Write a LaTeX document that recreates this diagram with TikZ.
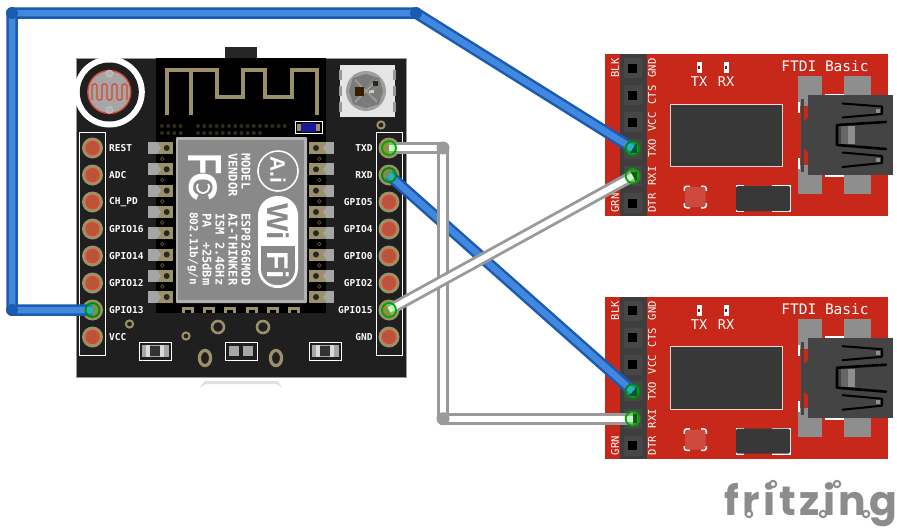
\documentclass[tikz,border=0pt]{standalone}
\usepackage{fontspec}
\usepackage{graphicx}
\setmainfont{Liberation Sans}
\setmonofont{DejaVu Sans Mono}
\newfontfamily\logofont[LetterSpace=8.5]{Poppins}
\definecolor{pcb}{HTML}{1F1F1F}
\definecolor{tanm}{HTML}{9C9068}
\definecolor{pinred}{HTML}{D9482E}
\definecolor{pincore}{HTML}{B5553D}
\definecolor{ftred}{HTML}{C8281A}
\definecolor{btnred}{HTML}{CF4A3E}
\definecolor{hdr}{HTML}{3E3E3E}
\definecolor{usb}{HTML}{444444}
\definecolor{padgray}{HTML}{8E8E8E}
\definecolor{modgray}{HTML}{898989}
\definecolor{wblue}{HTML}{4188DE}
\definecolor{wblueE}{HTML}{1A5BB0}
\definecolor{wgray}{HTML}{9A9A9A}
\definecolor{logogray}{HTML}{8C8C8C}
\tikzset{
 espin/.style={circle,fill=tanm,minimum size=21pt,inner sep=0pt},
 ftpin/.style={rectangle,fill=black,minimum size=9pt,inner sep=0pt},
 wireB/.style={draw=wblueE,line width=2.5pt,double=wblue,double distance=6.5pt,line join=round},
 wireG/.style={draw=wgray,line width=2.9pt,double=white,double distance=5.8pt,line join=round},
 jointB/.style={circle,fill=wblueE,minimum size=12pt,inner sep=0pt},
 jointG/.style={circle,fill=wgray,minimum size=13pt,inner sep=0pt},
 endB/.style={circle,draw=green!55!black,line width=1.8pt,fill=green!50!cyan,fill opacity=.35,minimum size=14pt,inner sep=0pt},
 endG/.style={circle,draw=green!65!black,line width=1.8pt,fill=green!70,fill opacity=.35,minimum size=14pt,inner sep=0pt},
 esplab/.style={text=white,font=\ttfamily\bfseries\fontsize{9.5}{10}\selectfont,inner sep=0pt},
 ftlab/.style={text=white,font=\ttfamily\fontsize{10.5}{11}\selectfont,inner sep=0pt,rotate=90},
 modlab/.style={text=white,font=\ttfamily\bfseries\fontsize{12}{12}\selectfont,inner sep=0pt,rotate=-90,anchor=west},
 usbline/.style={draw=black,line width=2pt,line cap=round},
 logoring/.style={fill=white,draw=logogray,line width=2pt},
}
\newcommand{\ftdiboard}[2]{%
\begin{scope}[shift={(0,#2)}]
 \fill[ftred] (605,54) rectangle (888,216);
 \fill[hdr] (620,54) rectangle (647,216);
 \foreach \n/\py in {1/68,2/95,3/122,4/148.5,5/176,6/203}{
  \fill[black!72] (624,\py-10) rectangle (642,\py+10);
  \node[ftpin] (#1p\n) at (632.7,\py) {};
 }
 \node[ftlab] (#1bl) at (615,68) {BLK};
 \node[ftlab] (#1gr) at (615,203) {GRN};
 \foreach \n/\py/\t in {1/68/GND,2/95/CTS,3/122/VCC,4/148.5/TXO,5/176/RXI,6/203/DTR}{
  \node[ftlab] (#1l\n) at (652,\py) {\t};
 }
 % LEDs
 \fill[white] (696.5,62) rectangle (701.5,73); \fill[white] (723.5,62) rectangle (728.5,73);
 \fill[ftred!60!black] (698,66) rectangle (700,69); \fill[ftred!60!black] (725,66) rectangle (727,69);
 \node[text=white,font=\ttfamily\fontsize{13.5}{13}\selectfont,inner sep=0pt] (#1tx) at (699,81.7) {TX};
 \node[text=white,font=\ttfamily\fontsize{13.5}{13}\selectfont,inner sep=0pt] (#1rx) at (726,81.7) {RX};
 \node[text=white,font=\ttfamily\fontsize{14.5}{15}\selectfont,inner sep=0pt] (#1ti) at (825,66) {FTDI Basic};
 % chip
 \fill[black!78,draw=white!80!ftred,line width=.6pt] (670.7,104) rectangle (782,166.7);
 % button
 \fill[white,rounded corners=3pt] (683.5,185.5) rectangle (707,208.5);
 \fill[ftred] (690,185) rectangle (701,209); \fill[ftred] (683,191) rectangle (708,203);
 \fill[btnred,rounded corners=2pt] (685,187) rectangle (705.5,207);
 % component
 \fill[white] (735.5,185) rectangle (791,212);
 \fill[ftred] (744,184) rectangle (772,213);
 \fill[black!78,rounded corners=1.5pt] (736,186) rectangle (790,211);
 % usb
 \fill[padgray] (798,76) rectangle (822,106); \fill[padgray] (844,76) rectangle (871,106);
 \fill[padgray] (798,165) rectangle (822,194); \fill[padgray] (844,165) rectangle (871,194);
 \fill[white] (825,93.5) rectangle (844,96); \fill[white] (825,174) rectangle (844,177);
 \fill[white] (798,102) rectangle (800,113); \fill[white] (798,158) rectangle (800,169);
 \fill[usb] (800.5,99) rectangle (804,172);
 \fill[usb] (803,122) -- (808,118) -- (808,152) -- (803,148) -- cycle;
 \fill[usb] (808,95) rectangle (893,175);
 \fill[black!60] (841,126) rectangle (848,144);
 \fill[padgray] (848,126) rectangle (855,144);
 \draw[usbline,line width=2.6pt,line join=round] (886,122) -- (837,125) -- (837,145) -- (886,149);
 \draw[usbline,line join=round] (842.5,103.5) -- (882,106.5) -- (882,114) -- (842.5,117.5);
 \draw[usbline,line join=round] (842.5,152.5) -- (882,156) -- (882,163) -- (842.5,167);
 \fill[padgray] (876,108.5) rectangle (880,112.5);
 \fill[padgray] (876,157.5) rectangle (880,161.5);
\end{scope}}
\begin{document}
\begin{tikzpicture}[x=1pt,y=-1pt]
\useasboundingbox (0,0) rectangle (897,528);
\fill[white] (0,0) rectangle (897,528);
% usb outline under the board
\fill[black!12] (200,387) -- (205,381) -- (278,381) -- (282,388) -- (277,384) -- (206,384) -- cycle;
% ESP board
\fill[black!85] (225,47) rectangle (257,58);
\fill[pcb,draw=black!40,line width=.5pt] (76.5,58) rectangle (406,377);
\fill[black] (156,58) rectangle (326,313);
% antenna
\draw[tanm,line width=4pt,line cap=butt,line join=miter]
 (166.5,115) -- (166.5,70) -- (191,70) -- (191,115);
\draw[tanm,line width=4pt,line join=miter]
 (191,70) -- (217,70) -- (217,97) -- (243,97) -- (243,70) -- (265,70) -- (265,97) -- (292,97) -- (292,70) -- (317,70) -- (317,115);
% dots
\foreach \i in {0,...,3}{\foreach \yy in {126,133}{\fill[black!70!tanm] (162+6.2*\i,\yy) circle (2);}}
\foreach \i in {0,...,14}{\fill[black!70!tanm] (198+6.2*\i,126) circle (2);}
\foreach \i in {0,...,10}{\fill[black!70!tanm] (198+6.2*\i,133) circle (2);}
% blue SMD
\fill[black] (295,121.5) rectangle (322,133.5);
\draw[white,line width=.8pt] (295,121.5) rectangle (322,133.5);
\fill[tanm] (297,124) rectangle (320,131);
\fill[blue!55!black!90!white] (301,123) rectangle (316,132);
% LDR
\fill[white] (109.3,92) circle (35.5);
\fill[pcb] (109.3,92) circle (29.5);
\fill[black!35,draw=pinred,line width=1.3pt] (109.3,92) circle (21.5);
\draw[pinred,line width=1.3pt,rounded corners=1.5pt]
 (92,100) -- (92,84) -- (97,84) -- (97,100) -- (102,100) -- (102,84) -- (107,84) -- (107,100) -- (112,100) -- (112,84) -- (117,84) -- (117,100) -- (122,100) -- (122,84) -- (127,84) -- (127,100);
\fill[black!30,draw=white!80!black,line width=.5pt] (109.3,73.5) circle (3.5);
\fill[black!30,draw=white!80!black,line width=.5pt] (109.3,110) circle (3.5);
% RGB LED
\fill[black!10] (340,65) rectangle (395,117);
\fill[black!40] (339,70) rectangle (342,80); \fill[black!40] (339,86) rectangle (342,96); \fill[black!40] (339,102) rectangle (342,112);
\fill[black!40] (393,70) rectangle (396,80); \fill[black!40] (393,86) rectangle (396,96); \fill[black!40] (393,102) rectangle (396,112);
\fill[black!38] (366,91) circle (20);
\fill[black!52] (353,78) -- (366,74) -- (379,78) -- (383,91) -- (379,104) -- (366,108) -- (353,104) -- (349,91) -- cycle;
\draw[black!38,line width=1.5pt] (355,80) -- (377,102) (355,102) -- (377,80);
\fill[black!78!orange] (355,87) rectangle (364,96);
\fill[black!20] (369,89.5) rectangle (374,92.5);
\fill[black!85] (373,81) rectangle (378,86);
\draw[tanm,line width=.4pt] (364,91) -- (375,76) (364,91) -- (378,100) (369,91) -- (383,85) (358,96) -- (370,106) (358,84) -- (354,74);
% header frames
\draw[white,line width=1pt] (79.5,132) rectangle (105.5,355);
\draw[white,line width=1pt] (376,132) rectangle (402,355);
% ring holes
\foreach \hx/\hy/\hr in {129.5/324/3.6,186/336/3.6,381/125/3.6}{\draw[tanm,line width=2pt] (\hx,\hy) circle (\hr);}
\foreach \hx in {218,263}{\draw[tanm,line width=2.6pt] (\hx,327) circle (6);}
\foreach \hx in {205,276}{\draw[tanm,line width=3.2pt] (\hx,358) ellipse (5.6 and 7.6);}
% SMDs
\foreach \sx in {139,309}{
 \draw[white,line width=1pt] (\sx,342) rectangle (\sx+32.5,360);
 \fill[black!35] (\sx+3,345) rectangle (\sx+29.5,357);
 \fill[white!85!black] (\sx+7,345) rectangle (\sx+11,357); \fill[white!85!black] (\sx+21,345) rectangle (\sx+25,357);
 \fill[black!80] (\sx+11,346) rectangle (\sx+21,356);
}
\draw[white,line width=1pt] (225,342) rectangle (257,360);
\fill[black!35] (229,346) rectangle (239,356); \fill[black!35] (243,346) rectangle (253,356);
% module side pads
\foreach \py in {148,169.3,190.6,212,233.2,254.5,276,297}{
 \fill[black!35] (148,\py-6) rectangle (158,\py+6);
 \fill[tanm] (158,\py-6) rectangle (173,\py+6);
 \fill[black!35] (158,\py-4) -- (161,\py) -- (158,\py+4) -- cycle;
 \fill[black!85] (166.7,\py) circle (3);
 \fill[black!35] (326,\py-6) rectangle (334,\py+6);
 \fill[tanm] (309,\py-6) rectangle (326,\py+6);
 \fill[black!35] (326,\py-4) -- (323,\py) -- (326,\py+4) -- cycle;
 \fill[black!85] (316,\py) circle (3);
}
\foreach \py in {158.8,180,201.3,222.6,244,265.3,286.5}{
 \draw[black!40!tanm,line width=.7pt] (162.3,\py) circle (1.8);
 \draw[black!40!tanm,line width=.7pt] (319.3,\py) circle (1.8);
}
\foreach \px in {182,203,224,246,267,288}{
 \fill[tanm] (\px,307) rectangle (\px+12,313);
 \fill[black] (\px+3,310) rectangle (\px+9,313);
}
% module
\fill[black!30,rounded corners=1pt] (176,137) rectangle (307,303);
\fill[modgray] (178,139.5) rectangle (304,300);
\node[modlab] (t1) at (246,153) {MODEL};
\node[modlab] (t2) at (233,153) {VENDOR};
\node[modlab] (t3) at (246,213) {ESP8266MOD};
\node[modlab] (t4) at (233,213) {AI-THINKER};
\node[modlab] (t5) at (220,213) {ISM\hspace{7.2pt}2.4GHz};
\node[modlab] (t6) at (207,213) {PA\hspace{7.2pt}\hspace{7.2pt}+25dBm};
\node[modlab,font=\ttfamily\bfseries\fontsize{11}{11}\selectfont] (t7) at (193,212) {802.11b/g/n};
\node[text=white,font=\bfseries\fontsize{32}{32}\selectfont,inner sep=0pt,rotate=-90] (fcf) at (205.5,164) {\scalebox{1.1}[1.5]{F}};
\node[text=white,font=\bfseries\fontsize{40}{40}\selectfont,inner sep=0pt,rotate=-90] (fcc) at (203,187) {C};
\draw[white,line width=1.8pt] (203,187) ++(-30:6) arc[start angle=-30,end angle=210,radius=6];
\draw[white,line width=1.6pt] (278,171) circle (20);
\node[text=white,font=\bfseries\fontsize{21}{21}\selectfont,inner sep=0pt,rotate=-90] (ai) at (278,170) {A.i};
\fill[white,rounded corners=19.5pt] (258,196) rectangle (298,288);
\fill[modgray,rounded corners=16pt] (261,246) rectangle (295,285);
\fill[modgray] (261,246) rectangle (295,262);
\node[text=modgray,font=\bfseries\fontsize{30}{30}\selectfont,inner sep=0pt,rotate=-90] (wi) at (278,222) {Wi};
\node[text=white,font=\bfseries\fontsize{30}{30}\selectfont,inner sep=0pt,rotate=-90] (fi) at (278,265) {Fi};
% pins
\foreach \n/\t in {1/REST,2/ADC,3/CH\_PD,4/GPIO16,5/GPIO14,6/GPIO12,7/GPIO13,8/VCC}{
 \node[espin] (L\n) at (92.5,121+27*\n) {};
 \fill[pinred] (L\n.center) circle (7.2);
 \fill[pincore] (L\n.center) circle (5);
 \node[esplab,anchor=west] (LT\n) at (109,121+27*\n) {\t};
}
\foreach \n/\t in {1/TXD,2/RXD,3/GPIO5,4/GPIO4,5/GPIO0,6/GPIO2,7/GPIO15,8/GND}{
 \node[espin] (R\n) at (389,121+27*\n) {};
 \fill[pinred] (R\n.center) circle (7.2);
 \fill[pincore] (R\n.center) circle (5);
 \node[esplab,anchor=east] (RT\n) at (372.7,121+27*\n) {\t};
}
\ftdiboard{a}{0}
\ftdiboard{b}{242.7}
% bend points
\coordinate (j1) at (12,310);
\coordinate (j2) at (12,13);
\coordinate (j3) at (416,13);
\coordinate (j4) at (443,148);
\coordinate (j5) at (443,418.7);
% wires
\draw[wireB] (R2.center) -- (bp4.center);
\draw[wireB] (L7.center) -- (j1) -- (j2) -- (j3) -- (ap4.center);
\draw[wireG] (R1.center) -- (j4) -- (j5) -- (bp5.center);
\draw[wireG] (R7.center) -- (ap5.center);
\node[jointB] (d1) at (j1) {};
\node[jointB] (d2) at (j2) {};
\node[jointB] (d3) at (j3) {};
\node[jointG] (d4) at (j4) {};
\node[jointG] (d5) at (j5) {};
% pin overlays
\node[endB] (e1) at (L7) {};
\node[endB] (e2) at (R2) {};
\node[endG] (e3) at (R1) {};
\node[endG] (e4) at (R7) {};
\node[endB] (e5) at (ap4) {};
\node[endG] (e6) at (ap5) {};
\node[endB] (e7) at (bp4) {};
\node[endG] (e8) at (bp5) {};
% logo
\node[text=logogray,font=\logofont\bfseries\fontsize{41}{41}\selectfont,anchor=base west,inner sep=0pt] (logo) at (724,515) {fritzing};
\foreach \rx/\ry in {773/484,837/484,749/514,823/514,866/514}{\draw[logoring] (\rx,\ry) circle (3.2);}
\end{tikzpicture}
\end{document}
